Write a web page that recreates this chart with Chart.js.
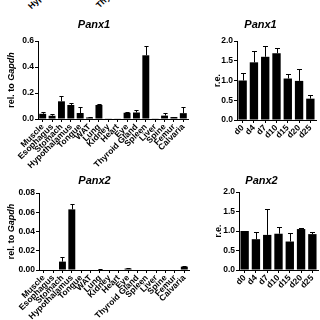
<!DOCTYPE html>
<html><head><meta charset="utf-8">
<script src="https://cdn.jsdelivr.net/npm/chart.js@4/dist/chart.umd.min.js"></script>
<style>
html,body{margin:0;padding:0;width:320px;height:320px;overflow:hidden;background:#fff;}
canvas{position:absolute;}
.rem{position:absolute;font:bold 8.5px "Liberation Sans",Arial,sans-serif;white-space:nowrap;transform-origin:0 100%;transform:rotate(-45deg);line-height:9px;color:#000;}
</style></head><body>
<span class="rem" style="left:33px;top:2px">Hypothalamus</span>
<span class="rem" style="left:101px;top:1px">Thyroid Gland</span>
<span class="rem" style="left:27px;top:-7px">Stomach</span>
<canvas id="c1"></canvas><canvas id="c2"></canvas><canvas id="c3"></canvas><canvas id="c4"></canvas>
<script>
const tissues = ['Muscle','Esophagus','Stomach','Hypothalamus','Tongue','WAT','Lung','Kidney','Heart','Eye','Thyroid Gland','Spleen','Liver','Spine','Femur','Calvaria'];
const days = ['d0','d4','d7','d10','d15','d20','d25'];
const panx1Tissue      = [0.040,0.025,0.136,0.108,0.046,0.012,0.108,0.005,0.003,0.048,0.050,0.490,0.005,0.026,0.015,0.045];
const panx1TissueUpper = [0.052,0.036,0.175,0.120,0.095,0.015,0.115,0.005,0.003,0.056,0.070,0.560,0.005,0.045,0.018,0.090];
const panx2Tissue      = [0,0,0.0087,0.063,0,0,0.0005,0,0,0.0015,0,0,0,0,0,0.0035];
const panx2TissueUpper = [0,0,0.0138,0.069,0,0,0.0006,0,0,0.0020,0,0,0,0,0,0.0040];
const panx1Diff      = [1.00,1.46,1.60,1.69,1.05,0.99,0.54];
const panx1DiffUpper = [1.20,1.75,1.87,1.83,1.17,1.29,0.64];
const panx2Diff      = [1.00,0.79,0.90,0.93,0.73,1.05,0.92];
const panx2DiffUpper = [1.00,0.97,1.56,1.10,0.96,1.07,0.98];
const yTicksTissue1 = ['0.0','0.2','0.4','0.6'];
const yTicksTissue2 = ['0.00','0.02','0.04','0.06','0.08'];
const yTicksDiff = ['0.0','0.5','1.0','1.5','2.0'];

const FAM = '"Liberation Sans", Arial, sans-serif';
const TICK = 8.5;

const errPlugin = {
  id: 'errbars',
  afterDatasetsDraw(chart) {
    const o = chart.options.plugins.errbars;
    if (!o || !o.upper) return;
    const ctx = chart.ctx, ys = chart.scales.y, meta = chart.getDatasetMeta(0);
    const vals = chart.data.datasets[0].data;
    ctx.save(); ctx.strokeStyle = '#000'; ctx.lineWidth = 1;
    meta.data.forEach((bar, i) => {
      if (!(o.upper[i] > vals[i])) return;
      const x = Math.round(bar.x) + 0.5, yt = Math.round(ys.getPixelForValue(o.upper[i])) + 0.5;
      const yb = ys.getPixelForValue(vals[i]);
      const w = bar.width * 0.3;
      ctx.beginPath(); ctx.moveTo(x, yb); ctx.lineTo(x, yt);
      ctx.moveTo(x - w, yt); ctx.lineTo(x + w, yt); ctx.stroke();
    });
    ctx.restore();
  }
};
const yTitlePlugin = {
  id: 'ytitle',
  afterDraw(chart) {
    const o = chart.options.plugins.ytitle;
    if (!o || !o.parts) return;
    const ctx = chart.ctx, ca = chart.chartArea;
    ctx.save();
    let total = 0;
    o.parts.forEach(p => { ctx.font = p[1]; total += ctx.measureText(p[0]).width; });
    ctx.translate(o.x, (ca.top + ca.bottom) / 2);
    ctx.rotate(-Math.PI / 2);
    ctx.fillStyle = '#000'; ctx.textBaseline = 'middle'; ctx.textAlign = 'left';
    let x = -total / 2;
    o.parts.forEach(p => { ctx.font = p[1]; ctx.fillText(p[0], x, 0); x += ctx.measureText(p[0]).width; });
    ctx.restore();
  }
};

function panel(id, rect, plot, titleCY, title, labels, values, upper, yMax, yStep, yLabels, yParts, yTitleX) {
  const cv = document.getElementById(id);
  cv.width = rect.w; cv.height = rect.h;
  cv.style.left = rect.x + 'px'; cv.style.top = rect.y + 'px';
  cv.style.width = rect.w + 'px'; cv.style.height = rect.h + 'px';
  const padTop = titleCY - 7 - rect.y;
  const padBottom = plot.t - rect.y - padTop - 14;
  new Chart(cv, {
    type: 'bar',
    data: { labels: labels, datasets: [{ data: values, backgroundColor: '#000', borderWidth: 0, barPercentage: 0.74, categoryPercentage: 1.0 }] },
    options: {
      responsive: false, animation: false, devicePixelRatio: 1,
      layout: { padding: { left: 0, top: 0, bottom: 0, right: rect.x + rect.w - plot.r } },
      plugins: {
        legend: { display: false }, tooltip: { enabled: false },
        title: { display: true, text: title, color: '#000', font: { family: FAM, size: 11, weight: 'bold', style: 'italic', lineHeight: 14/11 }, padding: { top: padTop, bottom: padBottom } },
        errbars: { upper: upper },
        ytitle: { parts: yParts, x: yTitleX - rect.x }
      },
      scales: {
        x: {
          offset: true,
          grid: { display: true, drawOnChartArea: false, drawTicks: true, tickLength: 3, color: '#000', offset: false },
          border: { display: true, color: '#000', width: 1 },
          ticks: { color: '#000', font: { family: FAM, size: TICK, weight: 'bold' }, minRotation: 45, maxRotation: 45, autoSkip: false, padding: 0 },
          afterFit: s => { s.height = rect.y + rect.h - plot.b; }
        },
        y: {
          min: 0, max: yMax,
          grid: { display: true, drawOnChartArea: false, drawTicks: true, tickLength: 3, color: '#000' },
          border: { display: true, color: '#000', width: 1 },
          ticks: { stepSize: yStep, color: '#000', padding: 1, font: { family: FAM, size: TICK, weight: 'bold' },
                   callback: (v, i) => yLabels[i] },
          afterFit: s => { s.width = plot.l - rect.x; }
        }
      }
    },
    plugins: [errPlugin, yTitlePlugin]
  });
}

const fb = 'bold 9px ' + FAM, fi = 'italic bold 9px ' + FAM;
panel('c1', {x:0,y:10,w:226,h:160}, {l:38,r:188,t:41,b:119}, 25, 'Panx1', tissues, panx1Tissue, panx1TissueUpper, 0.6, 0.2, yTicksTissue1, [['rel. to ', fb], ['Gapdh', fi]], 12);
panel('c2', {x:205,y:10,w:148,h:160}, {l:237,r:316,t:41,b:120}, 25, 'Panx1', days, panx1Diff, panx1DiffUpper, 2.0, 0.5, yTicksDiff, [['r.e.', fb]], 218);
panel('c3', {x:0,y:160,w:228,h:160}, {l:39,r:189,t:193,b:270}, 181, 'Panx2', tissues, panx2Tissue, panx2TissueUpper, 0.08, 0.02, yTicksTissue2, [['rel. to ', fb], ['Gapdh', fi]], 12);
panel('c4', {x:205,y:160,w:149,h:160}, {l:239,r:318,t:192,b:270}, 181, 'Panx2', days, panx2Diff, panx2DiffUpper, 2.0, 0.5, yTicksDiff, [['r.e.', fb]], 219);
</script>
</body></html>
